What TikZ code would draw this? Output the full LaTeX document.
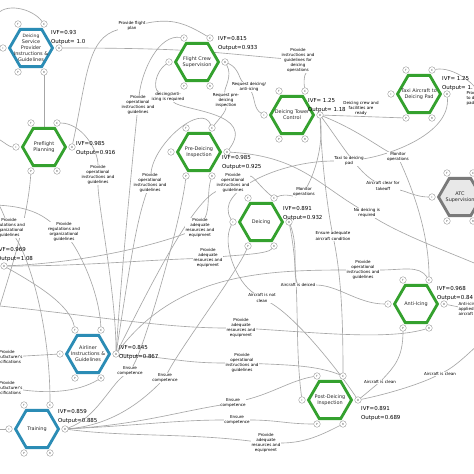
\documentclass[tikz,border=0pt]{standalone}
\usepackage{fontspec}
\setmainfont{DejaVu Sans}
\usetikzlibrary{shapes.geometric, backgrounds}
\definecolor{clrGreen}{HTML}{34A12E}
\definecolor{clrBlue}{HTML}{2B8CB5}
\definecolor{clrAtc}{HTML}{7A7A7A}
\definecolor{clrAtcFill}{HTML}{E8E8E8}
\definecolor{clrLink}{HTML}{A6A6A6}
\definecolor{clrAsp}{HTML}{8A8A8A}
\tikzset{
  fn/.style = {regular polygon, regular polygon sides=6, minimum size=2.15cm, inner sep=0pt,
               fill=white, line width=4pt},
  fnGreen/.style = {fn, draw=clrGreen},
  fnBlue/.style = {fn, draw=clrBlue},
  fnAtc/.style = {fn, draw=clrAtc, fill=clrAtcFill},
  fntext/.style = {align=center, inner sep=0pt, font=\fontsize{7}{8.5}\selectfont, text=black!85},
  asp/.style = {circle, draw=clrAsp, fill=white, line width=0.5pt, minimum size=0.33cm,
                inner sep=0pt, font=\fontsize{4}{4}\selectfont, text=black!70},
  ivf/.style = {anchor=north west, align=left, inner sep=0pt, font=\fontsize{7.8}{12}\selectfont},
  lbl/.style = {align=center, fill=white, inner sep=0.6pt, font=\fontsize{5.8}{7.2}\selectfont},
  link/.style = {draw=clrLink, line width=0.9pt},
}
% one FRAM function: hexagon, its text and the six aspects
\newcommand{\framfn}[4]{%
  \node[#3] (#1) at (#2) {};
  \node[fntext] (#1-txt) at (#1) {#4};
  \node[asp] (#1-T) at ([shift={(-13,-24)}]#1.center) {T};
  \node[asp] (#1-C) at ([shift={(13,-24)}]#1.center) {C};
  \node[asp] (#1-I) at ([shift={(-28,0)}]#1.center) {I};
  \node[asp] (#1-O) at ([shift={(28,0)}]#1.center) {O};
  \node[asp] (#1-P) at ([shift={(-13,24)}]#1.center) {P};
  \node[asp] (#1-R) at ([shift={(13,24)}]#1.center) {R};
}

\begin{document}
\begin{tikzpicture}[x=0.05cm, y=-0.05cm]
\useasboundingbox (0,0) rectangle (474,474);
\clip (0,0) rectangle (474,474);

% functions
\framfn{dsp}{31,48}{fnBlue}{\fontsize{6.3}{7.4}\selectfont Deicing\\Service\\Provider\\Instructions \&\\Guidelines}
\framfn{pf}{44,147}{fnGreen}{Preflight\\Planning}
\framfn{fcs}{197,62}{fnGreen}{Flight Crew\\Supervision}
\framfn{dtc}{292,115}{fnGreen}{Deicing Tower\\Control}
\framfn{taxi}{419,94}{fnGreen}{Taxi Aircraft to\\Deicing Pad}
\framfn{pdi}{199,152}{fnGreen}{Pre-Deicing\\Inspection}
\framfn{dei}{261,222}{fnGreen}{Deicing}
\framfn{atc}{460,197}{fnAtc}{ATC\\Supervision}
\framfn{ai}{416,304}{fnGreen}{Anti-Icing}
\framfn{pst}{330,400}{fnGreen}{Post-Deicing\\Inspection}
\framfn{air}{88,354}{fnBlue}{Airliner\\Instructions \&\\Guidelines}
\framfn{trn}{37,429}{fnBlue}{Training}
\node[asp] (reg-O) at (4,266) {O};

% coupling labels
\node[lbl] (l-flight) at (132,26) {Provide flight\\plan};
\node[lbl] (l-opsfcs) at (138,105) {Provide\\operational\\instructions and\\guidelines};
\node[lbl] (l-dtcg) at (298,60) {Provide\\instructions and\\guidelines for\\deicing\\operations};
\node[lbl] (l-reqpdi) at (226,100) {Request pre-\\deicing\\inspection};
\node[lbl] (l-reqdi) at (249,87) {Request deicing/\\anti-icing};
\node[lbl] (l-dreq) at (168,97) {deicing/anti-\\icing is required};
\node[lbl] (l-ready) at (361,108) {Deicing crew and\\facilities are\\ready};
\node[lbl] (l-taxi) at (349,161) {Taxi to deicing\\pad};
\node[lbl] (l-mon1) at (398,157) {Monitor\\operations};
\node[lbl] (l-mon2) at (304,192) {Monitor\\operations};
\node[lbl] (l-clear) at (383,186) {Aircraft clear for\\takeoff};
\node[lbl] (l-nodi) at (367,213) {No deicing is\\required};
\node[lbl] (l-ensac) at (333,236) {Ensure adequate\\aircraft condition};
\node[lbl] (l-opsai) at (363,270) {Provide\\operational\\instructions and\\guidelines};
\node[lbl] (l-deiced) at (298,285) {Aircraft is deiced};
\node[lbl] (l-notcl) at (262,298) {Aircraft is not\\clean};
\node[lbl] (l-opsdei) at (233,183) {Provide\\operational\\instructions and\\guidelines};
\node[lbl] (l-res1) at (200,228) {Provide\\adequate\\resources and\\equipment};
\node[lbl] (l-res2) at (208,258) {Provide\\adequate\\resources and\\equipment};
\node[lbl] (l-opspf) at (98,175) {Provide\\operational\\instructions and\\guidelines};
\node[lbl] (l-opspdi) at (150,183) {Provide\\operational\\instructions and\\guidelines};
\node[lbl] (l-reg1) at (9,228) {Provide\\regulations and\\organizational\\guidelines};
\node[lbl] (l-reg2) at (64,232) {Provide\\regulations and\\organizational\\guidelines};
\node[lbl] (l-manu1) at (7,357) {Provide\\manufacturer's\\specifications};
\node[lbl] (l-manu2) at (7,388) {Provide\\manufacturer's\\specifications};
\node[lbl] (l-comp1) at (130,371) {Ensure\\competence};
\node[lbl] (l-comp2) at (165,378) {Ensure\\competence};
\node[lbl] (l-comp3) at (233,403) {Ensure\\competence};
\node[lbl] (l-comp4) at (237,420) {Ensure\\competence};
\node[lbl] (l-res3) at (241,328) {Provide\\adequate\\resources and\\equipment};
\node[lbl] (l-opspst) at (242,363) {Provide\\operational\\instructions and\\guidelines};
\node[lbl] (l-res4) at (266,443) {Provide\\adequate\\resources and\\equipment};
\node[lbl] (l-clean1) at (380,382) {Aircraft is clean};
\node[lbl] (l-clean2) at (440,374) {Aircraft is clean};
\node[lbl, align=left, anchor=west] (l-antiapp) at (458,309) {Anti-icing\\applied to\\aircraft};
\node[lbl, align=left, anchor=west] (l-proc) at (466,98) {Proceed\\to deicing\\pad};

% variability
\node[ivf] (dsp-ivf) at (51,30.5) {IVF=0.93\\Output= 1.0};
\node[ivf] (pf-ivf) at (76,141.5) {IVF=0.985\\Output=0.916};
\node[ivf] (fcs-ivf) at (218,36.5) {IVF=0.815\\Output=0.933};
\node[ivf] (dtc-ivf) at (308,98.5) {IVF= 1.25\\Output= 1.18};
\node[ivf] (taxi-ivf) at (442,76.5) {IVF= 1.25\\Output= 1.};
\node[ivf] (pdi-ivf) at (222,155.5) {IVF=0.985\\Output=0.925};
\node[ivf] (dei-ivf) at (283,206.5) {IVF=0.891\\Output=0.932};
\node[ivf] (ai-ivf) at (437,286.5) {IVF=0.968\\Output=0.84};
\node[ivf] (pst-ivf) at (361,406.5) {IVF=0.891\\Output=0.689};
\node[ivf] (air-ivf) at (119,345.5) {IVF=0.845\\Output=0.867};
\node[ivf] (trn-ivf) at (58,409.5) {IVF=0.859\\Output=0.885};
\node[ivf] (reg-ivf) at (-3,247.5) {IVF=0.969\\Output=1.08};

% free ends outside the frame
\coordinate (offTL) at (-4,16);
\coordinate (offL1) at (-10,305);
\coordinate (offL3) at (-10,205);
\coordinate (offL4) at (-10,190);
\coordinate (offL5) at (-10,340);
\coordinate (offL6) at (-10,135);
\coordinate (offL7) at (-10,48);
\coordinate (offL9) at (-10,429);
\coordinate (offR1) at (490,270);
\coordinate (offR2) at (490,335);

\begin{scope}[on background layer]
\clip (0,0) rectangle (474,474);
\fill[white] (0,0) rectangle (474,474);
% couplings
\draw[link] (offTL) .. controls +(8,-14) and +(-12,-16) .. (dsp-C);
\draw[link] (offL7) -- (dsp-I);
\draw[link] (dsp-O) .. controls +(130,0) and +(-90,-8) .. (l-dtcg) .. controls +(8,10) and +(-2,-14) .. (dtc-C);
\draw[link] (dsp-R) -- (pf);
\draw[link] (pf-O) .. controls +(15,-70) and +(-45,12) .. (l-flight) .. controls +(40,-8) and +(-25,-15) .. (fcs-C);
\draw[link] (offL6) .. controls +(10,3) and +(-8,0) .. (pf-I);
\draw[link] (pf-P) .. controls +(-4,60) and +(10,-40) .. (offL5);
\draw[link] (fcs-O) .. controls +(14,6) and +(-10,-8) .. (l-reqdi) .. controls +(6,12) and +(-10,-6) .. (dtc-I);
\draw[link] (fcs-O) .. controls +(8,14) and +(-2,-12) .. (l-reqpdi) .. controls +(0,12) and +(6,-8) .. (pdi-C);
\draw[link] (fcs-I) .. controls +(-14,10) and +(-15,-8) .. (l-dreq) .. controls +(15,14) and +(30,-40) .. (pdi-O);
\draw[link] (dtc-O) -- (taxi-P);
\draw[link] (dtc-O) .. controls +(35,14) and +(-22,-12) .. (l-mon1) .. controls +(16,35) and +(0,-45) .. (ai-C);
\draw[link] (dtc-O) .. controls +(4,35) and +(8,-14) .. (l-mon2) .. controls +(-8,5) and +(12,-5) .. (dei-C);
\draw[link] (dtc-O) .. controls +(2,55) and +(-4,-20) .. (l-ensac) .. controls +(8,40) and +(0,-60) .. (pst-C);
\draw[link] (dtc-O) .. controls +(22,30) and +(-25,-14) .. (l-clear) .. controls +(25,6) and +(-15,0) .. (atc-I);
\draw[link] (taxi-O) .. controls +(4,40) and +(40,-6) .. (l-taxi) .. controls +(-70,0) and +(-20,-30) .. (dei-I);
\draw[link] (taxi-C) .. controls +(22,-4) and +(0,-12) .. (l-proc);
\draw[link] (pdi-O) .. controls +(70,4) and +(-50,-30) .. (l-nodi) .. controls +(40,25) and +(-25,-12) .. (offR1);
\draw[link] (dei-O) .. controls +(10,25) and +(-6,-14) .. (l-deiced) .. controls +(40,0) and +(-30,0) .. (ai-I);
\draw[link] (dei-O) .. controls +(12,60) and +(-8,-60) .. (pst-I);
\draw[link] (pst-O) .. controls +(-20,-30) and +(35,20) .. (l-notcl) .. controls +(-25,-15) and +(-12,22) .. (dei-I);
\draw[link] (pst-O) .. controls +(10,-8) and +(-10,8) .. (l-clean1) .. controls +(14,-15) and +(0,30) .. (ai-P);
\draw[link] (pst-O) .. controls +(30,-6) and +(-20,10) .. (l-clean2) .. controls +(20,-10) and +(-12,8) .. (offR2);
\draw[link] (ai-O) -- (l-antiapp);
\draw[link] (trn-O) .. controls +(80,-4) and +(-60,0) .. (l-comp4) .. controls +(40,0) and +(-30,0) .. (pst-P);
\draw[link] (trn-O) .. controls +(70,-4) and +(-60,10) .. (l-comp3) .. controls +(40,-10) and +(-25,4) .. (pst-T);
\draw[link] (trn-O) .. controls +(50,-4) and +(-20,20) .. (l-comp2) .. controls +(15,-30) and +(-10,25) .. (dei-P);
\draw[link] (trn-O) .. controls +(30,-10) and +(-20,15) .. (l-comp1) .. controls +(15,-25) and +(-5,45) .. (pdi-P);
\draw[link] (trn-O) .. controls +(60,8) and +(-80,-10) .. (l-res4) .. controls +(40,0) and +(-20,10) .. (pst-R);
\draw[link] (air-O) .. controls +(0,-60) and +(0,30) .. (l-opspf) .. controls +(0,-25) and +(25,0) .. (pf-C);
\draw[link] (air-O) .. controls +(6,-90) and +(-4,40) .. (l-opsfcs) .. controls +(4,-35) and +(-25,-4) .. (fcs-T);
\draw[link] (air-O) .. controls +(14,-90) and +(-14,40) .. (l-opspdi) .. controls +(4,-40) and +(-10,-26) .. (pdi-C);
\draw[link] (air-O) .. controls +(40,-80) and +(-40,20) .. (l-opsdei) .. controls +(20,-8) and +(-15,-12) .. (dei-C);
\draw[link] (air-O) .. controls +(60,-80) and +(-100,0) .. (l-opsai) .. controls +(40,0) and +(-10,-15) .. (ai-C);
\draw[link] (air-O) .. controls +(60,4) and +(-60,0) .. (l-opspst) .. controls +(50,2) and +(-25,-10) .. (pst-C);
\draw[link] (reg-O) .. controls +(90,-4) and +(-40,15) .. (l-res1) .. controls +(10,-20) and +(-5,15) .. (pdi-R);
\draw[link] (reg-O) .. controls +(80,0) and +(-80,3) .. (l-res2) .. controls +(30,-3) and +(-6,8) .. (dei-R);
\draw[link] (reg-O) .. controls +(35,20) and +(-5,-25) .. (air-T);
\draw[link] (offL1) .. controls +(100,10) and +(-80,0) .. (l-res3) .. controls +(80,5) and +(-40,12) .. (ai-R);
\draw[link] (offL3) .. controls +(40,0) and +(-20,-15) .. (l-reg2) .. controls +(15,20) and +(-2,-40) .. (air-C);
\draw[link] (offL4) .. controls +(8,10) and +(-4,-10) .. (l-reg1) .. controls +(20,30) and +(0,-80) .. (trn-C);
\draw[link] (l-manu1) -- (air-I);
\draw[link] (l-manu2) .. controls +(40,5) and +(-25,15) .. (air-R);
\draw[link] (offL9) -- (trn-I);
\end{scope}
\end{tikzpicture}
\end{document}
